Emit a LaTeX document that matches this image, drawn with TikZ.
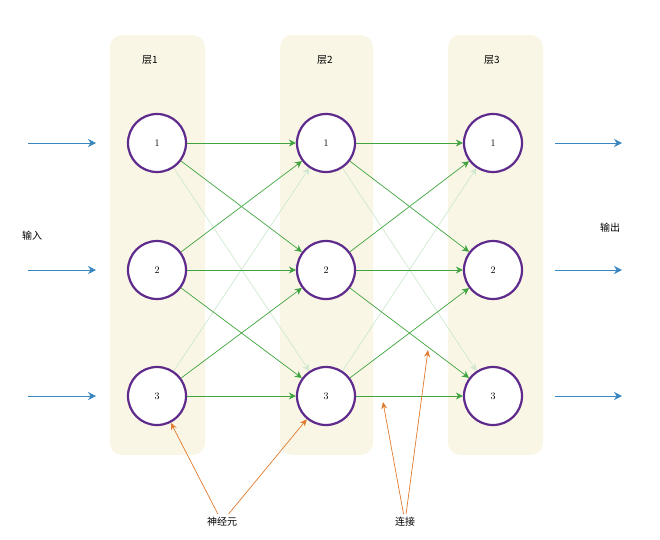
\documentclass[tikz,border=0pt]{standalone}
\usepackage{fontspec}
\newfontfamily\cjk{Noto Sans CJK SC}
\usetikzlibrary{arrows.meta}
\definecolor{bg}{HTML}{FAF6E6}
\definecolor{pur}{HTML}{5E2A8C}
\definecolor{grn}{HTML}{3FA33F}
\definecolor{blu}{HTML}{3A86C0}
\definecolor{org}{HTML}{E07A2E}
\begin{document}
\begin{tikzpicture}[x=1pt,y=-1pt,
 layer/.style={fill=bg,rounded corners=12pt},
 neuron/.style={circle,draw=pur,line width=2.2pt,fill=white,minimum size=58pt,inner sep=0pt,font=\normalsize},
 conn/.style={draw=grn,-{Stealth[length=7pt,width=7pt]},line width=0.7pt},
 faint/.style={conn,draw=grn!25},
 io/.style={draw=blu,-{Stealth[length=8pt,width=8pt]},line width=0.7pt},
 call/.style={draw=org,-{Stealth[length=7pt,width=6pt]},line width=0.7pt},
 lbl/.style={font=\cjk\normalsize}]
\useasboundingbox (0,0) rectangle (660,539);
\fill[layer] (110,35) rectangle (205,455);
\fill[layer] (280,35) rectangle (373,455);
\fill[layer] (448,35) rectangle (543,455);
\node[lbl] (t1) at (150,60) {层1};
\node[lbl] (t2) at (325,60) {层2};
\node[lbl] (t3) at (492,60) {层3};
\foreach \c/\x in {a/157,b/326,c/493}{
 \foreach \i/\y in {1/143,2/270,3/396}{
  \node[neuron] (\c\i) at (\x,\y) {\i};
 }}
\foreach \s/\t in {a/b,b/c}{
 \draw[faint] (\s1) -- (\t3);
 \draw[faint] (\s3) -- (\t1);
 \foreach \i/\j in {1/1,1/2,2/1,2/2,2/3,3/2,3/3}{
  \draw[conn] (\s\i) -- (\t\j);
 }}
\foreach \i/\y in {1/143,2/270,3/396}{
 \coordinate (in\i) at (28,\y);
 \coordinate (ie\i) at (96,\y);
 \coordinate (os\i) at (555,\y);
 \coordinate (out\i) at (622,\y);
 \draw[io] (in\i) -- (ie\i);
 \draw[io] (os\i) -- (out\i);
}
\node[lbl] (inl) at (32,236) {输入};
\node[lbl] (outl) at (610,228) {输出};
\node[lbl] (nl) at (222,522) {神经元};
\node[lbl] (cl) at (405,522) {连接};
\coordinate (p1) at (383,402);
\coordinate (p2) at (428,350);
\draw[call] (nl) -- (a3);
\draw[call] (nl) -- (b3);
\draw[call] (cl) -- (p1);
\draw[call] (cl) -- (p2);
\end{tikzpicture}
\end{document}
